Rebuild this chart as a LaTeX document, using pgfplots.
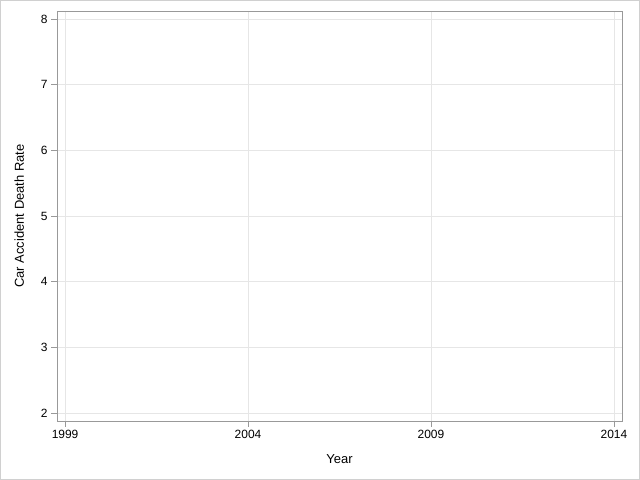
\documentclass[border=0pt]{standalone}
\usepackage{pgfplots}
\pgfplotsset{compat=1.18}
\usepackage{fontspec}
\setmainfont{Liberation Sans}
\definecolor{axisgray}{HTML}{999999}
\definecolor{gridgray}{HTML}{E6E6E6}
\definecolor{framegray}{HTML}{D0D0D0}
\begin{document}
\begin{tikzpicture}[x=1bp,y=1bp]
\draw[framegray,line width=1bp] (0.5,0.5) rectangle (639.5,479.5);
\begin{axis}[
  at={(57bp,59bp)}, anchor=south west,
  scale only axis, width=565bp, height=410bp,
  xmin=1998.78, xmax=2014.22, ymin=1.878, ymax=8.122,
  xtick={1999,2004,2009,2014}, ytick={2,3,4,5,6,7,8},
  xticklabel style={/pgf/number format/1000 sep={}},
  /pgf/number format/assume math mode=true,
  tick label style={font=\fontsize{12}{14}\selectfont, color=black},
  label style={font=\fontsize{13}{15}\selectfont},
  xlabel={Year}, ylabel={Car Accident Death Rate},
  xlabel style={yshift=-9bp},
  ylabel style={yshift=10bp},
  axis line style={axisgray, line width=0.8bp},
  tick style={axisgray, line width=0.8bp},
  tick align=outside, major tick length=6bp,
  xtick pos=bottom, ytick pos=left,
  grid=major, major grid style={gridgray, line width=0.8bp},
]
\addplot[draw=none, forget plot] coordinates {(1999,2)};
\end{axis}
\end{tikzpicture}
\end{document}
